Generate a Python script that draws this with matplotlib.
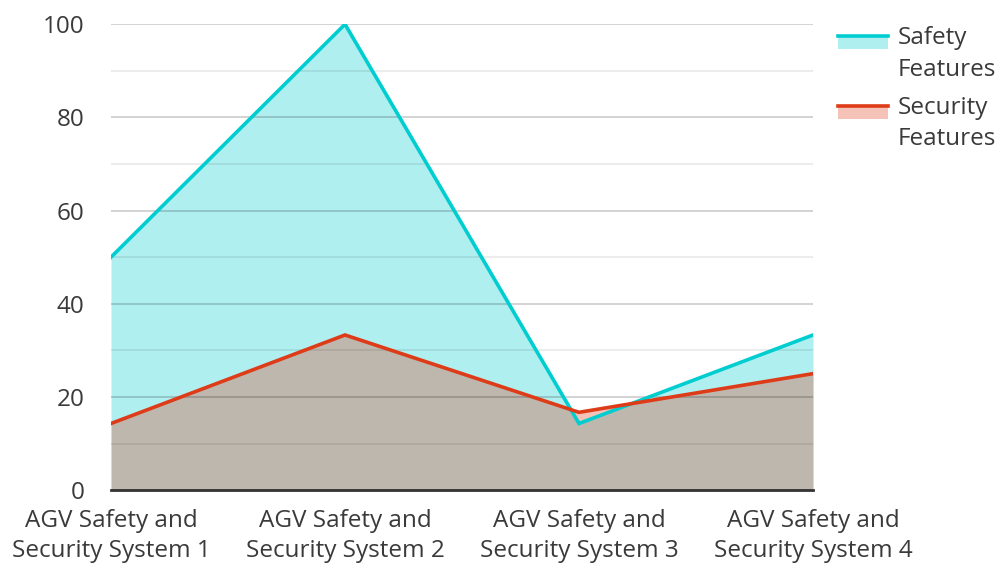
import matplotlib
matplotlib.use("Agg")
import matplotlib.pyplot as plt
from matplotlib.legend_handler import HandlerBase
from matplotlib.patches import Rectangle
from matplotlib.lines import Line2D
import numpy as np

categories = ["AGV Safety and\nSecurity System 1", "AGV Safety and\nSecurity System 2",
              "AGV Safety and\nSecurity System 3", "AGV Safety and\nSecurity System 4"]
safety = [50, 100, 14.3, 33.3]
security = [14.3, 33.3, 16.7, 25]
series_names = ["Safety\nFeatures", "Security\nFeatures"]
yticks = [0, 20, 40, 60, 80, 100]

teal = "#00cdd0"
red = "#de3c18"
text_color = "#3a3a3a"
fs = 17.5

plt.rcParams['font.family'] = ['Open Sans', 'DejaVu Sans']

fig = plt.figure(figsize=(10, 5.64), dpi=100)
ax = fig.add_axes([0.111, 0.131, 0.702, 0.826])

x = np.arange(len(categories))
ax.fill_between(x, 0, safety, color=teal, alpha=0.31, linewidth=0, zorder=1)
ax.fill_between(x, 0, security, color=red, alpha=0.31, linewidth=0, zorder=1.1)
ax.plot(x, safety, color=teal, lw=2.6, zorder=3, solid_joinstyle='miter')
ax.plot(x, security, color=red, lw=2.6, zorder=3.1, solid_joinstyle='miter')

ax.set_xlim(0, 3)
ax.set_ylim(0, 100)
ax.set_xticks(x)
ax.set_xticklabels(categories)
ax.set_yticks(yticks)
ax.set_yticks(np.arange(10, 100, 20), minor=True)
ax.tick_params(axis='y', which='both', length=0, pad=19, labelsize=fs, labelcolor=text_color)
ax.tick_params(axis='x', length=0, pad=13.5, labelsize=fs, labelcolor=text_color)
for lab in ax.get_xticklabels():
    lab.set_linespacing(1.36)
ax.set_axisbelow(False)
ax.grid(axis='y', which='major', color='black', alpha=0.2, lw=1.2, zorder=2)
ax.grid(axis='y', which='minor', color='black', alpha=0.09, lw=1.2, zorder=2)
ax.grid(axis='x', visible=False)
for s in ['top', 'right', 'left']:
    ax.spines[s].set_visible(False)
ax.spines['bottom'].set_color('#333333')
ax.spines['bottom'].set_linewidth(2)
ax.spines['bottom'].set_zorder(4)


class FillLineHandler(HandlerBase):
    def __init__(self, color):
        super().__init__()
        self.color = color

    def create_artists(self, legend, orig_handle, xdescent, ydescent, width, height, fontsize, trans):
        top = height + 7
        rect = Rectangle((-xdescent, top - 9.5), width, 9.5, facecolor=self.color, alpha=0.31,
                         edgecolor='none', transform=trans)
        line = Line2D([-xdescent, -xdescent + width], [top, top], color=self.color, lw=2.6,
                      transform=trans)
        return [rect, line]


h1 = Line2D([], [], color=teal)
h2 = Line2D([], [], color=red)
leg = fig.legend([h1, h2], series_names, loc='upper left', bbox_to_anchor=(0.816, 0.992),
                 frameon=False, fontsize=fs, handlelength=2.06, handletextpad=0.41,
                 labelspacing=0.6, labelcolor=text_color,
                 handler_map={h1: FillLineHandler(teal), h2: FillLineHandler(red)})
for t in leg.get_texts():
    t.set_linespacing(1.4)

fig.savefig("out.png", dpi=100)
